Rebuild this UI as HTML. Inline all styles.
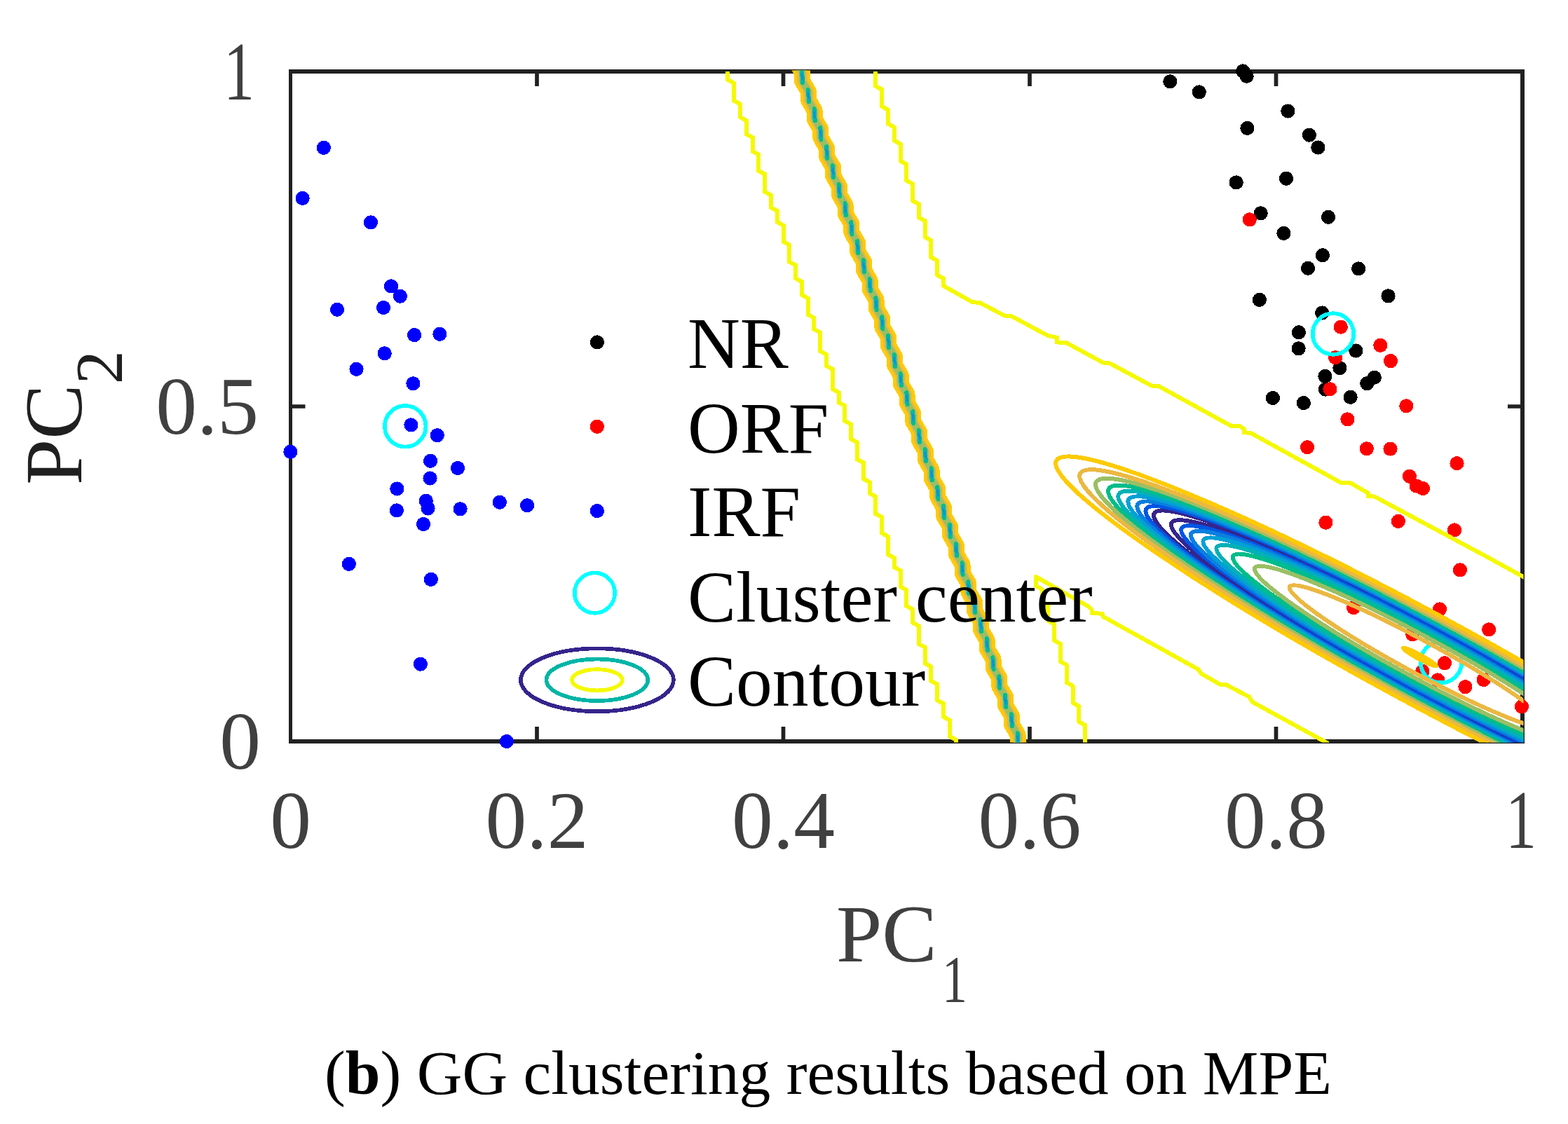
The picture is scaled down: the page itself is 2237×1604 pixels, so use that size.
<!DOCTYPE html>
<html><head><meta charset="utf-8"><title>GG clustering results based on MPE</title>
<style>html,body{margin:0;padding:0;background:#fff;overflow:hidden}svg{display:block}</style>
</head><body>
<svg width="2237" height="1604" viewBox="0 0 2237 1604">
<defs><clipPath id="axclip"><rect x="413" y="100.5" width="1760.5" height="959"/></clipPath></defs>
<rect width="2237" height="1604" fill="#fff"/>
<path d="M412 99H2175V105H412Z M412 99H417V1061H412Z M2169 99H2175V1061H2169Z M412 1055H2175V1061H412Z" fill="#212121"/>
<path d="M766 1058V1037 M766 102V123 M1117.5 1058V1037 M1117.5 102V123 M1469 1058V1037 M1469 102V123 M1820.5 1058V1037 M1820.5 102V123 M414.5 580H435.5 M2172 580H2151" stroke="#212121" stroke-width="5.7" fill="none"/>
<g shape-rendering="crispEdges">
<g fill="#000"><circle cx="1669.3" cy="116.3" r="10.1"/><circle cx="1710.8" cy="131.4" r="10.1"/><circle cx="1773.2" cy="101.4" r="10.1"/><circle cx="1778.6" cy="108.7" r="10.1"/><circle cx="1837.4" cy="158.5" r="10.1"/><circle cx="1779.4" cy="182.9" r="10.1"/><circle cx="1867.9" cy="192.7" r="10.1"/><circle cx="1880.4" cy="210.5" r="10.1"/><circle cx="1763.7" cy="260.4" r="10.1"/><circle cx="1835.0" cy="254.7" r="10.1"/><circle cx="1798.7" cy="304.3" r="10.1"/><circle cx="1895.0" cy="309.8" r="10.1"/><circle cx="1831.4" cy="332.9" r="10.1"/><circle cx="1886.9" cy="364.3" r="10.1"/><circle cx="1866.0" cy="382.8" r="10.1"/><circle cx="1938.1" cy="383.4" r="10.1"/><circle cx="1796.9" cy="427.9" r="10.1"/><circle cx="1980.5" cy="422.3" r="10.1"/><circle cx="1886.2" cy="446.5" r="10.1"/><circle cx="1852.9" cy="474.3" r="10.1"/><circle cx="1852.6" cy="497.3" r="10.1"/><circle cx="1934.4" cy="500.5" r="10.1"/><circle cx="1911.4" cy="525.1" r="10.1"/><circle cx="1890.4" cy="536.9" r="10.1"/><circle cx="1960.8" cy="538.7" r="10.1"/><circle cx="1950.3" cy="547.2" r="10.1"/><circle cx="1891.0" cy="555.6" r="10.1"/><circle cx="1815.9" cy="568.0" r="10.1"/><circle cx="1859.9" cy="575.1" r="10.1"/><circle cx="1926.6" cy="566.8" r="10.1"/></g>
<g fill="#f00"><circle cx="1782.8" cy="313.4" r="10.1"/><circle cx="1912.8" cy="466.6" r="10.1"/><circle cx="1905.1" cy="510.2" r="10.1"/><circle cx="1969.3" cy="492.8" r="10.1"/><circle cx="1984.0" cy="515.1" r="10.1"/><circle cx="1897.4" cy="555.3" r="10.1"/><circle cx="2006.3" cy="579.3" r="10.1"/><circle cx="1922.4" cy="598.4" r="10.1"/><circle cx="1865.0" cy="638.2" r="10.1"/><circle cx="1949.8" cy="640.3" r="10.1"/><circle cx="1983.5" cy="640.6" r="10.1"/><circle cx="2078.5" cy="661.2" r="10.1"/><circle cx="2010.9" cy="679.7" r="10.1"/><circle cx="2020.7" cy="693.5" r="10.1"/><circle cx="2029.9" cy="697.0" r="10.1"/><circle cx="1891.4" cy="745.7" r="10.1"/><circle cx="1994.9" cy="743.9" r="10.1"/><circle cx="2075.0" cy="756.5" r="10.1"/><circle cx="2083.0" cy="813.4" r="10.1"/><circle cx="1931.1" cy="867.1" r="10.1"/><circle cx="2054.0" cy="869.4" r="10.1"/><circle cx="2015.2" cy="905.3" r="10.1"/><circle cx="2061.0" cy="946.3" r="10.1"/><circle cx="2029.3" cy="958.0" r="10.1"/><circle cx="2051.2" cy="970.4" r="10.1"/><circle cx="2090.4" cy="980.2" r="10.1"/><circle cx="2116.6" cy="970.0" r="10.1"/><circle cx="2124.1" cy="898.4" r="10.1"/><circle cx="2171.0" cy="1008.3" r="10.1"/></g>
<g fill="#00f"><circle cx="461.9" cy="210.9" r="10.1"/><circle cx="431.6" cy="282.9" r="10.1"/><circle cx="529.0" cy="317.4" r="10.1"/><circle cx="558.0" cy="408.5" r="10.1"/><circle cx="570.9" cy="422.7" r="10.1"/><circle cx="481.0" cy="441.8" r="10.1"/><circle cx="547.0" cy="439.0" r="10.1"/><circle cx="591.1" cy="478.1" r="10.1"/><circle cx="627.4" cy="476.8" r="10.1"/><circle cx="548.7" cy="504.3" r="10.1"/><circle cx="508.5" cy="526.8" r="10.1"/><circle cx="589.4" cy="547.3" r="10.1"/><circle cx="586.4" cy="606.4" r="10.1"/><circle cx="623.8" cy="621.2" r="10.1"/><circle cx="414.4" cy="644.8" r="10.1"/><circle cx="614.1" cy="657.8" r="10.1"/><circle cx="653.0" cy="668.0" r="10.1"/><circle cx="613.6" cy="682.5" r="10.1"/><circle cx="566.4" cy="697.5" r="10.1"/><circle cx="607.8" cy="714.7" r="10.1"/><circle cx="610.6" cy="725.5" r="10.1"/><circle cx="656.6" cy="726.3" r="10.1"/><circle cx="712.9" cy="716.8" r="10.1"/><circle cx="752.1" cy="721.2" r="10.1"/><circle cx="565.9" cy="728.4" r="10.1"/><circle cx="604.0" cy="748.0" r="10.1"/><circle cx="497.9" cy="804.9" r="10.1"/><circle cx="614.9" cy="826.9" r="10.1"/><circle cx="599.9" cy="947.7" r="10.1"/><circle cx="722.8" cy="1058.0" r="10.1"/></g>
<g fill="none" stroke="#0ff" stroke-width="5.7"><circle cx="578.2" cy="608.3" r="29.3"/><circle cx="1902.0" cy="476.5" r="29.3"/><circle cx="2056.0" cy="945.0" r="29.3"/></g>
</g>
<g clip-path="url(#axclip)" fill="none" stroke-linejoin="round" shape-rendering="crispEdges">
<path d="M1038.4 102 L1038.4 113.9 L1047.2 118.7 L1047.2 143.8 L1056 148.6 L1056 167.2 L1064.8 172 L1064.8 191.5 L1073.6 196.3 L1073.6 215.8 L1082.3 220.6 L1082.3 243.8 L1091.1 248.6 L1091.1 273.7 L1099.9 278.5 L1099.9 296.1 L1108.7 300.9 L1108.7 316.7 L1117.5 321.5 L1117.5 344.7 L1126.3 349.5 L1126.3 373.7 L1135.1 378.5 L1135.1 397.3 L1143.9 402.1 L1143.9 420.8 L1152.7 425.6 L1152.7 448.8 L1161.4 453.6 L1161.4 469.7 L1170.2 474.5 L1170.2 501.1 L1179 505.9 L1179 522.1 L1187.8 526.9 L1187.8 555.2 L1196.6 560 L1196.6 574.4 L1205.4 579.2 L1205.4 600.6 L1214.2 605.4 L1214.2 626.5 L1222.9 631.3 L1222.9 655.4 L1231.7 660.2 L1231.7 683.2 L1240.5 688 L1240.5 704 L1249.3 708.8 L1249.3 733.1 L1258.1 737.9 L1258.1 760.8 L1266.9 765.6 L1266.9 791.3 L1275.7 796.1 L1275.7 809.3 L1284.5 814.1 L1284.5 837.1 L1293.2 841.9 L1293.2 864.8 L1302 869.6 L1302 888.4 L1310.8 893.2 L1310.8 918.9 L1319.6 923.7 L1319.6 946.6 L1328.4 951.4 L1328.4 971.6 L1337.2 976.4 L1337.2 999.3 L1346 1004.1 L1346 1022.9 L1354.8 1027.7 L1354.8 1050.6 L1363.5 1055.4 L1363.5 1064" stroke="#f5f900" stroke-width="6" stroke-linejoin="miter"/>
<path d="M1249.3 102 L1249.3 122.9 L1258.1 127.7 L1258.1 151.8 L1266.9 156.6 L1266.9 176.7 L1275.7 181.5 L1275.7 200.6 L1284.5 205.4 L1284.5 229.6 L1293.2 234.4 L1293.2 257.5 L1302 262.3 L1302 286.4 L1310.8 291.2 L1310.8 310.3 L1319.6 315.1 L1319.6 338.2 L1328.4 343 L1328.4 367.1 L1337.2 371.9 L1337.2 392.5 L1346 397.3 L1346 407.9 L1387.1 431 L1398.2 432.1 L1432.9 450.4 L1442.9 451.1 L1495.5 479.2 L1507.8 481.7 L1507.8 488.4 L1521.2 489.1 L1573.7 517.5 L1583.7 518.6 L1643 550.5 L1653 551 L1757.2 608.2 L1769 608.2 L1775.4 612.5 L1775.4 617.4 L1784 617.7 L1913.8 689.2 L1926.7 689.2 L1951.9 703.7 L1951.9 708 L1961 708.6 L2120 793.9 L2178 825.7" stroke="#f5f900" stroke-width="6" stroke-linejoin="miter"/>
<path d="M1548.1 1064 L1548.1 1034.8 L1539.3 1030 L1539.3 1007.8 L1530.5 1003 L1530.5 978.8 L1521.7 974 L1521.7 948.8 L1512.9 944 L1512.9 918.8 L1504.1 914 L1504.1 890.8 L1495.4 886 L1495.4 864.8 L1486.6 860 L1486.6 840.8 L1477.8 836 L1477.8 823 L1553.2 865.7 L1557.6 870 L1557.6 875 L1572.6 875.7 L1574 880 L1709.8 955.4 L1713.7 961.3 L1741.3 977 L1749.1 977 L1782.6 994.7 L1786.5 1001.6 L1889.5 1058 L1895 1061" stroke="#f5f900" stroke-width="6" stroke-linejoin="round"/>
<path d="M1127 49.7 L1127 61.7 L1135.8 76.7 L1135.8 88.7 L1144.6 103.7 L1144.6 115.7 L1153.4 130.7 L1153.4 142.7 L1162.1 157.7 L1162.1 169.7 L1170.9 184.7 L1170.9 196.7 L1179.7 211.7 L1179.7 223.7 L1188.5 238.7 L1188.5 250.7 L1197.3 265.7 L1197.3 277.7 L1206.1 292.7 L1206.1 304.7 L1214.9 319.7 L1214.9 331.7 L1223.7 346.7 L1223.7 358.7 L1232.5 373.7 L1232.5 385.7 L1241.2 400.7 L1241.2 412.7 L1250 427.7 L1250 439.7 L1258.8 454.7 L1258.8 466.7 L1267.6 481.7 L1267.6 493.7 L1276.4 508.7 L1276.4 520.7 L1285.2 535.7 L1285.2 547.7 L1294 562.7 L1294 574.7 L1302.8 589.7 L1302.8 601.7 L1311.5 616.7 L1311.5 628.7 L1320.3 643.7 L1320.3 655.7 L1329.1 670.7 L1329.1 682.7 L1337.9 697.7 L1337.9 709.7 L1346.7 724.6 L1346.7 736.6 L1355.5 751.6 L1355.5 763.6 L1364.3 778.6 L1364.3 790.6 L1373 805.6 L1373 817.6 L1381.8 832.6 L1381.8 844.6 L1390.6 859.6 L1390.6 871.6 L1399.4 886.6 L1399.4 898.6 L1408.2 913.6 L1408.2 925.6 L1417 940.6 L1417 952.6 L1425.8 967.6 L1425.8 979.6 L1434.6 994.6 L1434.6 1006.6 L1443.3 1021.6 L1443.3 1033.6 L1452.1 1048.6 L1452.1 1060.6 L1460.9 1075.6 L1460.9 1087.6 L1469.7 1102.6 L1469.7 1114.6" stroke="#fdcb02" stroke-width="23"/>
<path d="M1127 49.7 L1127 61.7 L1135.8 76.7 L1135.8 88.7 L1144.6 103.7 L1144.6 115.7 L1153.4 130.7 L1153.4 142.7 L1162.1 157.7 L1162.1 169.7 L1170.9 184.7 L1170.9 196.7 L1179.7 211.7 L1179.7 223.7 L1188.5 238.7 L1188.5 250.7 L1197.3 265.7 L1197.3 277.7 L1206.1 292.7 L1206.1 304.7 L1214.9 319.7 L1214.9 331.7 L1223.7 346.7 L1223.7 358.7 L1232.5 373.7 L1232.5 385.7 L1241.2 400.7 L1241.2 412.7 L1250 427.7 L1250 439.7 L1258.8 454.7 L1258.8 466.7 L1267.6 481.7 L1267.6 493.7 L1276.4 508.7 L1276.4 520.7 L1285.2 535.7 L1285.2 547.7 L1294 562.7 L1294 574.7 L1302.8 589.7 L1302.8 601.7 L1311.5 616.7 L1311.5 628.7 L1320.3 643.7 L1320.3 655.7 L1329.1 670.7 L1329.1 682.7 L1337.9 697.7 L1337.9 709.7 L1346.7 724.6 L1346.7 736.6 L1355.5 751.6 L1355.5 763.6 L1364.3 778.6 L1364.3 790.6 L1373 805.6 L1373 817.6 L1381.8 832.6 L1381.8 844.6 L1390.6 859.6 L1390.6 871.6 L1399.4 886.6 L1399.4 898.6 L1408.2 913.6 L1408.2 925.6 L1417 940.6 L1417 952.6 L1425.8 967.6 L1425.8 979.6 L1434.6 994.6 L1434.6 1006.6 L1443.3 1021.6 L1443.3 1033.6 L1452.1 1048.6 L1452.1 1060.6 L1460.9 1075.6 L1460.9 1087.6 L1469.7 1102.6 L1469.7 1114.6" stroke="#ebb842" stroke-width="14.5"/>
<path d="M1127 49.7 L1127 61.7 L1135.8 76.7 L1135.8 88.7 L1144.6 103.7 L1144.6 115.7 L1153.4 130.7 L1153.4 142.7 L1162.1 157.7 L1162.1 169.7 L1170.9 184.7 L1170.9 196.7 L1179.7 211.7 L1179.7 223.7 L1188.5 238.7 L1188.5 250.7 L1197.3 265.7 L1197.3 277.7 L1206.1 292.7 L1206.1 304.7 L1214.9 319.7 L1214.9 331.7 L1223.7 346.7 L1223.7 358.7 L1232.5 373.7 L1232.5 385.7 L1241.2 400.7 L1241.2 412.7 L1250 427.7 L1250 439.7 L1258.8 454.7 L1258.8 466.7 L1267.6 481.7 L1267.6 493.7 L1276.4 508.7 L1276.4 520.7 L1285.2 535.7 L1285.2 547.7 L1294 562.7 L1294 574.7 L1302.8 589.7 L1302.8 601.7 L1311.5 616.7 L1311.5 628.7 L1320.3 643.7 L1320.3 655.7 L1329.1 670.7 L1329.1 682.7 L1337.9 697.7 L1337.9 709.7 L1346.7 724.6 L1346.7 736.6 L1355.5 751.6 L1355.5 763.6 L1364.3 778.6 L1364.3 790.6 L1373 805.6 L1373 817.6 L1381.8 832.6 L1381.8 844.6 L1390.6 859.6 L1390.6 871.6 L1399.4 886.6 L1399.4 898.6 L1408.2 913.6 L1408.2 925.6 L1417 940.6 L1417 952.6 L1425.8 967.6 L1425.8 979.6 L1434.6 994.6 L1434.6 1006.6 L1443.3 1021.6 L1443.3 1033.6 L1452.1 1048.6 L1452.1 1060.6 L1460.9 1075.6 L1460.9 1087.6 L1469.7 1102.6 L1469.7 1114.6" stroke="#9abf64" stroke-width="9.5"/>
<path d="M1126.4 47.2L1127.6 64.2M1135.2 74.2L1136.4 91.2M1144 101.2L1145.2 118.2M1152.8 128.2L1154 145.2M1161.5 155.2L1162.7 172.2M1170.3 182.2L1171.5 199.2M1179.1 209.2L1180.3 226.2M1187.9 236.2L1189.1 253.2M1196.7 263.2L1197.9 280.2M1205.5 290.2L1206.7 307.2M1214.3 317.2L1215.5 334.2M1223.1 344.2L1224.3 361.2M1231.9 371.2L1233 388.2M1240.6 398.2L1241.8 415.2M1249.4 425.2L1250.6 442.2M1258.2 452.2L1259.4 469.2M1267 479.2L1268.2 496.2M1275.8 506.2L1277 523.2M1284.6 533.2L1285.8 550.2M1293.4 560.2L1294.6 577.2M1302.2 587.2L1303.3 604.2M1310.9 614.2L1312.1 631.2M1319.7 641.2L1320.9 658.2M1328.5 668.2L1329.7 685.2M1337.3 695.2L1338.5 712.2M1346.1 722.1L1347.3 739.1M1354.9 749.1L1356.1 766.1M1363.7 776.1L1364.9 793.1M1372.5 803.1L1373.6 820.1M1381.2 830.1L1382.4 847.1M1390 857.1L1391.2 874.1M1398.8 884.1L1400 901.1M1407.6 911.1L1408.8 928.1M1416.4 938.1L1417.6 955.1M1425.2 965.1L1426.4 982.1M1434 992.1L1435.2 1009.1M1442.8 1019.1L1443.9 1036.1M1451.5 1046.1L1452.7 1063.1M1460.3 1073.1L1461.5 1090.1M1469.1 1100.1L1470.3 1117.1" stroke="#00bd89" stroke-width="6" stroke-linecap="round"/>
<path d="M1126.4 49.7L1127.6 61.7M1135.2 76.7L1136.4 88.7M1144 103.7L1145.2 115.7M1152.8 130.7L1154 142.7M1161.5 157.7L1162.7 169.7M1170.3 184.7L1171.5 196.7M1179.1 211.7L1180.3 223.7M1187.9 238.7L1189.1 250.7M1196.7 265.7L1197.9 277.7M1205.5 292.7L1206.7 304.7M1214.3 319.7L1215.5 331.7M1223.1 346.7L1224.3 358.7M1231.9 373.7L1233 385.7M1240.6 400.7L1241.8 412.7M1249.4 427.7L1250.6 439.7M1258.2 454.7L1259.4 466.7M1267 481.7L1268.2 493.7M1275.8 508.7L1277 520.7M1284.6 535.7L1285.8 547.7M1293.4 562.7L1294.6 574.7M1302.2 589.7L1303.3 601.7M1310.9 616.7L1312.1 628.7M1319.7 643.7L1320.9 655.7M1328.5 670.7L1329.7 682.7M1337.3 697.7L1338.5 709.7M1346.1 724.6L1347.3 736.6M1354.9 751.6L1356.1 763.6M1363.7 778.6L1364.9 790.6M1372.5 805.6L1373.6 817.6M1381.2 832.6L1382.4 844.6M1390 859.6L1391.2 871.6M1398.8 886.6L1400 898.6M1407.6 913.6L1408.8 925.6M1416.4 940.6L1417.6 952.6M1425.2 967.6L1426.4 979.6M1434 994.6L1435.2 1006.6M1442.8 1021.6L1443.9 1033.6M1451.5 1048.6L1452.7 1060.6M1460.3 1075.6L1461.5 1087.6M1469.1 1102.6L1470.3 1114.6" stroke="#05aebd" stroke-width="4" stroke-linecap="round"/>
<path d="M1126.4 52.2L1127.6 59.2M1135.2 79.2L1136.4 86.2M1144 106.2L1145.2 113.2M1152.8 133.2L1154 140.2M1161.5 160.2L1162.7 167.2M1170.3 187.2L1171.5 194.2M1179.1 214.2L1180.3 221.2M1187.9 241.2L1189.1 248.2M1196.7 268.2L1197.9 275.2M1205.5 295.2L1206.7 302.2M1214.3 322.2L1215.5 329.2M1223.1 349.2L1224.3 356.2M1231.9 376.2L1233 383.2M1240.6 403.2L1241.8 410.2M1249.4 430.2L1250.6 437.2M1258.2 457.2L1259.4 464.2M1267 484.2L1268.2 491.2M1275.8 511.2L1277 518.2M1284.6 538.2L1285.8 545.2M1293.4 565.2L1294.6 572.2M1302.2 592.2L1303.3 599.2M1310.9 619.2L1312.1 626.2M1319.7 646.2L1320.9 653.2M1328.5 673.2L1329.7 680.2M1337.3 700.2L1338.5 707.2M1346.1 727.1L1347.3 734.1M1354.9 754.1L1356.1 761.1M1363.7 781.1L1364.9 788.1M1372.5 808.1L1373.6 815.1M1381.2 835.1L1382.4 842.1M1390 862.1L1391.2 869.1M1398.8 889.1L1400 896.1M1407.6 916.1L1408.8 923.1M1416.4 943.1L1417.6 950.1M1425.2 970.1L1426.4 977.1M1434 997.1L1435.2 1004.1M1442.8 1024.1L1443.9 1031.1M1451.5 1051.1L1452.7 1058.1M1460.3 1078.1L1461.5 1085.1M1469.1 1105.1L1470.3 1112.1" stroke="#0a8fe0" stroke-width="2.5" stroke-linecap="round"/>
<ellipse cx="2025.4" cy="937.5" rx="430.6" ry="47.8" transform="rotate(28.4 2025.4 937.5)" stroke="#36248c" stroke-width="6"/>
<ellipse cx="2025.4" cy="937.5" rx="402.4" ry="44.7" transform="rotate(28.4 2025.4 937.5)" stroke="#36248c" stroke-width="6"/>
<ellipse cx="2025.4" cy="937.5" rx="443.7" ry="49.3" transform="rotate(28.4 2025.4 937.5)" stroke="#0056e4" stroke-width="6"/>
<ellipse cx="2025.4" cy="937.5" rx="386.2" ry="42.9" transform="rotate(28.4 2025.4 937.5)" stroke="#0056e4" stroke-width="6"/>
<ellipse cx="2025.4" cy="937.5" rx="457.5" ry="50.8" transform="rotate(28.4 2025.4 937.5)" stroke="#0a7fdf" stroke-width="6"/>
<ellipse cx="2025.4" cy="937.5" rx="370.6" ry="41.1" transform="rotate(28.4 2025.4 937.5)" stroke="#0a7fdf" stroke-width="6"/>
<ellipse cx="2025.4" cy="937.5" rx="472.2" ry="52.4" transform="rotate(28.4 2025.4 937.5)" stroke="#02a0d6" stroke-width="6"/>
<ellipse cx="2025.4" cy="937.5" rx="350.7" ry="38.9" transform="rotate(28.4 2025.4 937.5)" stroke="#02a0d6" stroke-width="6"/>
<ellipse cx="2025.4" cy="937.5" rx="488.1" ry="54.2" transform="rotate(28.4 2025.4 937.5)" stroke="#02b1b6" stroke-width="6"/>
<ellipse cx="2025.4" cy="937.5" rx="329.2" ry="36.5" transform="rotate(28.4 2025.4 937.5)" stroke="#02b1b6" stroke-width="6"/>
<ellipse cx="2025.4" cy="937.5" rx="504.4" ry="56" transform="rotate(28.4 2025.4 937.5)" stroke="#00bd89" stroke-width="6"/>
<ellipse cx="2025.4" cy="937.5" rx="302.8" ry="33.6" transform="rotate(28.4 2025.4 937.5)" stroke="#00bd89" stroke-width="6"/>
<ellipse cx="2025.4" cy="937.5" rx="524.7" ry="58.2" transform="rotate(28.4 2025.4 937.5)" stroke="#9abf64" stroke-width="6"/>
<ellipse cx="2025.4" cy="937.5" rx="267.4" ry="29.7" transform="rotate(28.4 2025.4 937.5)" stroke="#9abf64" stroke-width="6"/>
<ellipse cx="2025.4" cy="937.5" rx="550.6" ry="61.1" transform="rotate(28.4 2025.4 937.5)" stroke="#ebb842" stroke-width="6"/>
<ellipse cx="2025.4" cy="937.5" rx="210.9" ry="23.4" transform="rotate(28.4 2025.4 937.5)" stroke="#ebb842" stroke-width="6"/>
<ellipse cx="2025.4" cy="937.5" rx="589.2" ry="65.4" transform="rotate(28.4 2025.4 937.5)" stroke="#fdcb02" stroke-width="6"/>
<ellipse cx="2025.4" cy="937.5" rx="27" ry="3" transform="rotate(28.4 2025.4 937.5)" stroke="#fdcb02" stroke-width="6"/>
</g>
<g font-family="'Liberation Serif','Times New Roman',serif" font-size="117.5" fill="#404040" text-anchor="middle">
<text x="414.5" y="1209.5">0</text>
<text x="766" y="1209.5">0.2</text>
<text x="1117.5" y="1209.5">0.4</text>
<text x="1469" y="1209.5">0.6</text>
<text x="1820.5" y="1209.5">0.8</text>
<text transform="translate(2169.9 1209.5) scale(0.75 1)">1</text>
</g>
<g font-family="'Liberation Serif','Times New Roman',serif" font-size="117.5" fill="#404040" text-anchor="end">
<text x="372" y="1097">0</text>
<text x="369" y="619">0.5</text>
<text text-anchor="middle" transform="translate(341.1 142) scale(0.75 1)">1</text>
</g>
<text font-family="'Liberation Serif','Times New Roman',serif" font-size="117.5" fill="#404040" x="1193" y="1372">PC</text>
<text font-family="'Liberation Serif','Times New Roman',serif" font-size="96" fill="#404040" text-anchor="middle" transform="translate(1362 1430) scale(0.75 1)">1</text>
<text font-family="'Liberation Serif','Times New Roman',serif" font-size="117.5" fill="#202020" transform="translate(116 692) rotate(-90)" x="0" y="0">PC<tspan font-size="96" dy="58">2</tspan></text>
<g shape-rendering="crispEdges">
<circle cx="851.9" cy="488.4" r="10.1" fill="#000"/>
<circle cx="851.9" cy="608.8" r="10.1" fill="#f00"/>
<circle cx="851.9" cy="729.1" r="10.1" fill="#00f"/>
<circle cx="848.5" cy="846.1" r="28.7" fill="none" stroke="#0ff" stroke-width="5.6"/>
<g fill="none" stroke-width="5.7">
<ellipse cx="851.9" cy="970.3" rx="109" ry="44.9" stroke="#36248c"/>
<ellipse cx="851.9" cy="970.3" rx="72.4" ry="29.8" stroke="#00b5a6"/>
<ellipse cx="851.9" cy="970.3" rx="35.9" ry="15.1" stroke="#f5f900"/>
</g>
</g>
<g font-family="'Liberation Serif','Times New Roman',serif" font-size="103.5" fill="#000">
<text x="981" y="524.8">NR</text>
<text x="981" y="645.6">ORF</text>
<text x="981" y="765.4">IRF</text>
<text x="981" y="886.5">Cluster center</text>
<text x="981" y="1006.5">Contour</text>
</g>
<text font-family="'Liberation Serif','Times New Roman',serif" font-size="89.5" fill="#000" x="463" y="1561.2">(<tspan font-weight="bold">b</tspan>) GG clustering results based on MPE</text>
</svg>
</body></html>
